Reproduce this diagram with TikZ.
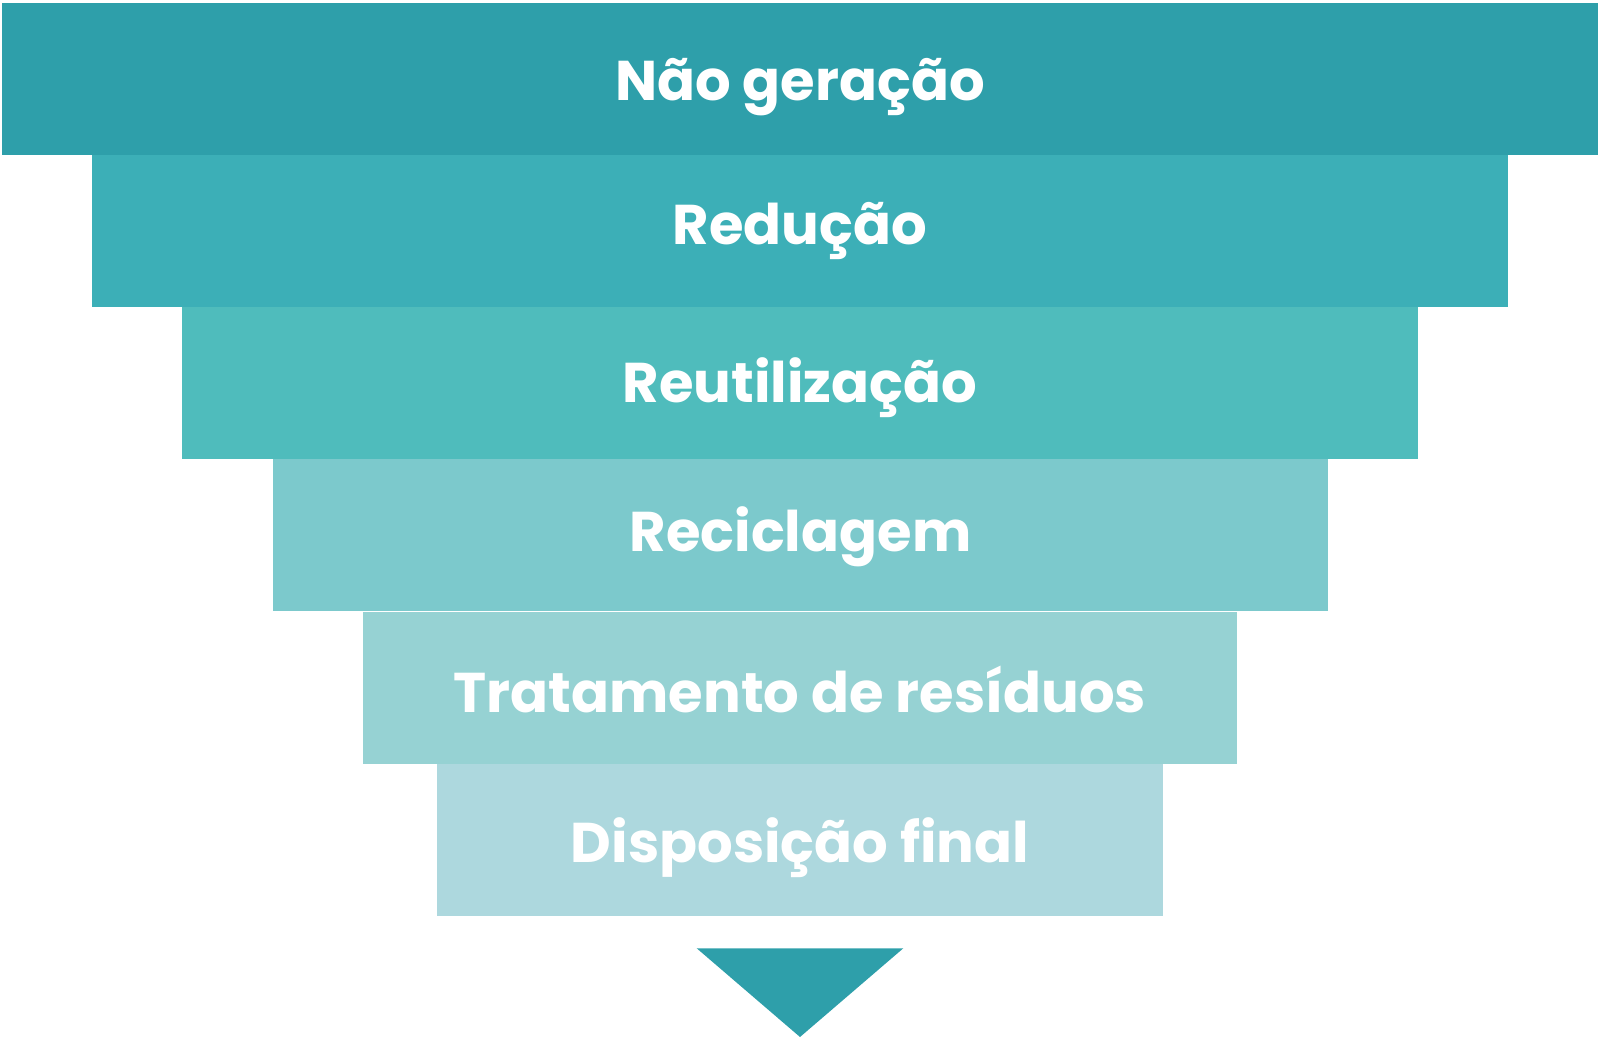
\documentclass[tikz,border=0pt]{standalone}
\usepackage{fontspec}
\setmainfont{Poppins}
\definecolor{c1}{HTML}{2E9FAA}
\definecolor{c2}{HTML}{3CAFB7}
\definecolor{c3}{HTML}{4FBCBC}
\definecolor{c4}{HTML}{7CC9CC}
\definecolor{c5}{HTML}{96D2D3}
\definecolor{c6}{HTML}{ADD8DE}
\begin{document}
\begin{tikzpicture}[x=1pt,y=-1pt,
  bar/.style={rectangle, inner sep=0pt, outer sep=0pt, draw=none, text=white,
    font=\fontsize{56}{60}\selectfont\bfseries, text depth=0pt, minimum height=152pt},
]
\useasboundingbox (0,0) rectangle (1599,1040);
\node[bar, fill=c1, minimum width=1596pt, text height=44pt] (b1) at (800,79) {Não geração};
\node[bar, fill=c2, minimum width=1416pt, text height=28pt] (b2) at (800,231) {Redução};
\node[bar, fill=c3, minimum width=1236pt, text height=39.4pt] (b3) at (800,383) {Reutilização};
\node[bar, fill=c4, minimum width=1055pt, text height=32pt] (b4) at (800.5,535) {Reciclagem};
\node[bar, fill=c5, minimum width=874pt, text height=50pt] (b5) at (800,687.5) {Tratamento de resíduos};
\node[bar, fill=c6, minimum width=726pt, text height=45.4pt] (b6) at (800,840) {Disposição final};
\fill[c1] (696.7,948.3) -- (903.3,948.3) -- (800,1037) -- cycle;
\end{tikzpicture}
\end{document}
